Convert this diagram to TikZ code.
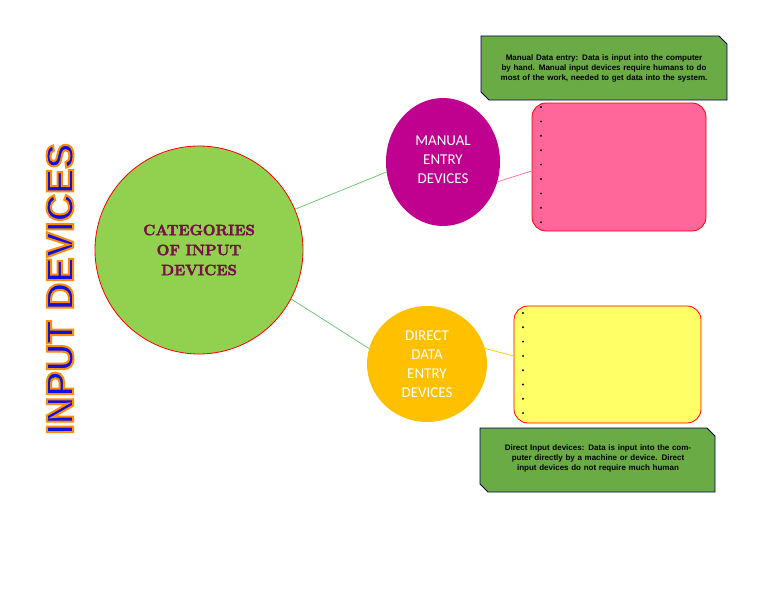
\documentclass[tikz,border=0pt]{standalone}
\usepackage{fontspec}
\setsansfont{Liberation Sans}
\newfontfamily\calib{Carlito}
\usetikzlibrary{shapes.geometric}
\definecolor{gbox}{HTML}{6AAB45}
\definecolor{pinkb}{HTML}{FF6699}
\definecolor{yelb}{HTML}{FFFF66}
\definecolor{magc}{HTML}{C0008F}
\definecolor{orac}{HTML}{FFC000}
\definecolor{grnc}{HTML}{92D050}
\definecolor{wine}{HTML}{8B0A50}
\definecolor{ttlblue}{HTML}{1010E0}
\begin{document}
\begin{tikzpicture}[x=1pt,y=-1pt,
  note/.style={fill=gbox,draw=black!70!blue,line width=0.8pt},
  notetext/.style={font=\sffamily\bfseries\fontsize{8}{10}\selectfont,align=center,text width=225pt},
  bul/.style={circle,fill=black,inner sep=0pt,minimum size=2.2pt},
  cat/.style={font=\calib\fontsize{15}{19}\selectfont,text=white,align=center}]
\useasboundingbox (0,0) rectangle (768,594);
% title
\node[rotate=90,font=\sffamily\bfseries\fontsize{38}{38}\selectfont,text=ttlblue] (title) at (60,289)
  {\special{pdf:literal direct 2 Tr 2 w 1 0.55 0 RG}INPUT DEVICES\special{pdf:literal direct 0 Tr}};
% central circle
\node[circle,fill=grnc,draw=red,line width=0.8pt,minimum size=208pt] (c) at (199,250) {};
\node[font=\rmfamily\bfseries\scshape\fontsize{15}{20}\selectfont,text=wine,align=center] (ct) at (199,250)
  {\special{pdf:literal direct 2 Tr 0.3 w 0.35 0.05 0.2 RG}CATEGORIES\\OF INPUT\\DEVICES\special{pdf:literal direct 0 Tr}};
% category circles
\node[ellipse,fill=magc,minimum width=114pt,minimum height=128pt] (m) at (443,162) {};
\node[cat] (mt) at (443,160) {MANUAL\\ENTRY\\DEVICES};
\node[ellipse,fill=orac,minimum width=120pt,minimum height=116pt] (d) at (427,364) {};
\node[cat] (dt) at (427,364) {DIRECT\\DATA\\ENTRY\\DEVICES};
% boxes
\node[rounded corners=14pt,fill=pinkb,draw=red,line width=0.8pt,minimum width=174pt,minimum height=128pt] (pb) at (619,167) {};
\node[rounded corners=14pt,fill=yelb,draw=red,line width=0.8pt,minimum width=187pt,minimum height=117pt] (yb) at (607.5,364.5) {};
\foreach \i in {0,...,8} \node[bul] (pd\i) at (541,107+14.4*\i) {};
\foreach \i in {0,...,7} \node[bul] (yd\i) at (523,313+14.3*\i) {};
% notes
\draw[note] (481,36) -- (719,36) -- (727,44) -- (727,100) -- (489,100) -- (481,92) -- cycle;
\node[notetext,text width=222pt] (n1) at (604,68) {\hyphenpenalty=10000 Manual Data entry: Data is input into the computer by hand. Manual input devices require humans to do most of the work, needed to get data into the system.};
\draw[note] (480,428) -- (707,428) -- (715,436) -- (715,492) -- (488,492) -- (480,484) -- cycle;
\node[notetext,text width=200pt] (n2) at (598,458) {\hyphenpenalty=10000 Direct Input devices: Data is input into the computer directly by a machine or device. Direct input devices do not require much human};
% connectors
\draw[green!60!black!60,line width=0.7pt] (c.23) -- (m.190);
\draw[green!60!black!60,line width=0.7pt] (c.-28) -- (d.165);
\draw[pinkb,line width=0.7pt] (m.-20) -- (pb.west|-0,171);
\draw[orac,line width=0.7pt] (d.15) -- (yb.west|-0,356);
\end{tikzpicture}
\end{document}
